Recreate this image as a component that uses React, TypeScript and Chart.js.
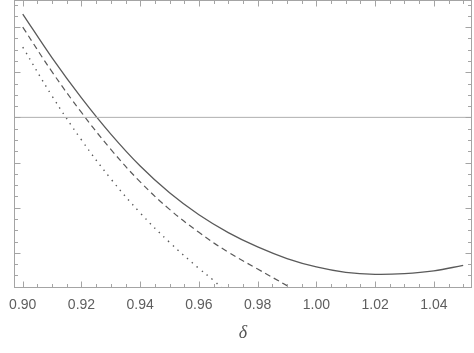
import React, { useEffect, useRef } from "react";
import { Chart, registerables } from "chart.js";

Chart.register(...registerables);

// δ sample points
const deltaSolid = [0.90, 0.91, 0.92, 0.93, 0.94, 0.95, 0.96, 0.97, 0.98, 0.99, 1.00, 1.01, 1.02, 1.03, 1.04, 1.05];
const solidValues = [2.289, 1.318, 0.431, -0.371, -1.078, -1.671, -2.158, -2.553, -2.871, -3.127, -3.313, -3.433, -3.478, -3.462, -3.400, -3.278];

const deltaDashed = [0.90, 0.91, 0.92, 0.93, 0.94, 0.95, 0.96, 0.97, 0.98, 0.99, 0.992];
const dashedValues = [2.0, 1.007, 0.109, -0.709, -1.429, -2.038, -2.547, -2.987, -3.360, -3.727, -3.80];

const deltaDotted = [0.90, 0.91, 0.92, 0.93, 0.94, 0.95, 0.96, 0.965, 0.968];
const dottedValues = [1.556, 0.471, -0.50, -1.362, -2.116, -2.769, -3.347, -3.611, -3.80];

const xTickValues = [0.90, 0.92, 0.94, 0.96, 0.98, 1.00, 1.02, 1.04];
const xTickLabels = ["0.90", "0.92", "0.94", "0.96", "0.98", "1.00", "1.02", "1.04"];
const yMajorTicks = [-3, -2, -1, 0, 1, 2];

const X_MIN = 0.897;
const X_MAX = 1.053;
const Y_MIN = -3.78;
const Y_MAX = 2.6;
const AXIS_Y = 0;

const toXY = (xs: number[], ys: number[]) => xs.map((x, i) => ({ x, y: ys[i] }));

const framePlugin = {
  id: "frameTicks",
  afterDraw(chart: any) {
    const { ctx, chartArea } = chart;
    const xs = chart.scales.x;
    const ys = chart.scales.y;
    const l = Math.round(chartArea.left) + 0.5;
    const r = Math.round(chartArea.right) - 0.5;
    const t = Math.round(chartArea.top) + 0.5;
    const b = Math.round(chartArea.bottom) - 0.5;
    ctx.save();
    ctx.strokeStyle = "#a4a4a4";
    ctx.lineWidth = 1;
    ctx.strokeRect(l, t, r - l, b - t);
    const majLen = 6;
    const minLen = 3.5;
    ctx.beginPath();
    // x ticks, minor every 0.005
    for (let k = 0; k <= 40; k++) {
      const v = 0.895 + k * 0.005;
      if (v < X_MIN - 1e-9 || v > X_MAX + 1e-9) continue;
      const isMajor = xTickValues.some((m) => Math.abs(m - v) < 1e-6);
      const len = isMajor ? majLen : minLen;
      const px = Math.round(xs.getPixelForValue(v)) + 0.5;
      ctx.moveTo(px, b);
      ctx.lineTo(px, b - len);
      ctx.moveTo(px, t);
      ctx.lineTo(px, t + len);
    }
    // y ticks, minor every 0.25
    for (let k = -16; k <= 12; k++) {
      const v = k * 0.25;
      if (v < Y_MIN || v > Y_MAX) continue;
      const isMajor = yMajorTicks.some((m) => Math.abs(m - v) < 1e-6);
      const len = isMajor ? majLen : minLen;
      const py = Math.round(ys.getPixelForValue(v)) + 0.5;
      ctx.moveTo(l, py);
      ctx.lineTo(l + len, py);
      ctx.moveTo(r, py);
      ctx.lineTo(r - len, py);
    }
    ctx.stroke();
    ctx.restore();
  },
};

export default function App() {
  const ref = useRef<HTMLCanvasElement>(null);
  useEffect(() => {
    if (!ref.current) return;
    const lineColor = "#5a5a5a";
    const chart = new Chart(ref.current, {
      type: "line",
      data: {
        datasets: [
          {
            data: [{ x: X_MIN, y: AXIS_Y }, { x: X_MAX, y: AXIS_Y }],
            borderColor: "#b0b0b0",
            borderWidth: 1,
            pointRadius: 0,
            tension: 0,
          },
          {
            data: toXY(deltaSolid, solidValues),
            borderColor: lineColor,
            borderWidth: 1.3,
            pointRadius: 0,
            tension: 0.4,
          },
          {
            data: toXY(deltaDashed, dashedValues),
            borderColor: lineColor,
            borderWidth: 1.2,
            borderDash: [6, 4],
            pointRadius: 0,
            tension: 0.4,
          },
          {
            data: toXY(deltaDotted, dottedValues),
            borderColor: lineColor,
            borderWidth: 1.4,
            borderDash: [1.4, 5],
            pointRadius: 0,
            tension: 0.4,
          },
        ],
      },
      options: {
        animation: false,
        responsive: false,
        maintainAspectRatio: false,
        layout: { padding: { left: 6, right: 2, top: 0, bottom: 0 } },
        plugins: { legend: { display: false }, tooltip: { enabled: false } },
        scales: {
          x: {
            type: "linear",
            min: X_MIN,
            max: X_MAX,
            grid: { display: false, drawTicks: false },
            border: { display: false },
            afterBuildTicks: (scale: any) => {
              scale.ticks = xTickValues.map((v) => ({ value: v }));
            },
            afterFit: (scale: any) => {
              scale.height = 65;
            },
            ticks: {
              autoSkip: false,
              maxRotation: 0,
              padding: 9,
              color: "#5e5e5e",
              font: { family: "'Liberation Sans', Arial, sans-serif", size: 14 },
              callback: (v: any) => {
                const i = xTickValues.findIndex((m) => Math.abs(m - Number(v)) < 1e-6);
                return i >= 0 ? xTickLabels[i] : "";
              },
            },
            title: {
              display: true,
              text: "δ",
              color: "#555",
              font: { family: "'Liberation Serif', 'DejaVu Serif', serif", style: "italic", size: 18 },
              padding: { top: 0, bottom: 9 },
            },
          },
          y: {
            type: "linear",
            min: Y_MIN,
            max: Y_MAX,
            display: false,
          },
        },
      },
      plugins: [framePlugin],
    } as any);
    return () => chart.destroy();
  }, []);
  return (
    <div style={{ position: "fixed", left: 0, top: 0, width: 474, height: 353, background: "#fff" }}>
      <canvas ref={ref} width={474} height={353} />
    </div>
  );
}
